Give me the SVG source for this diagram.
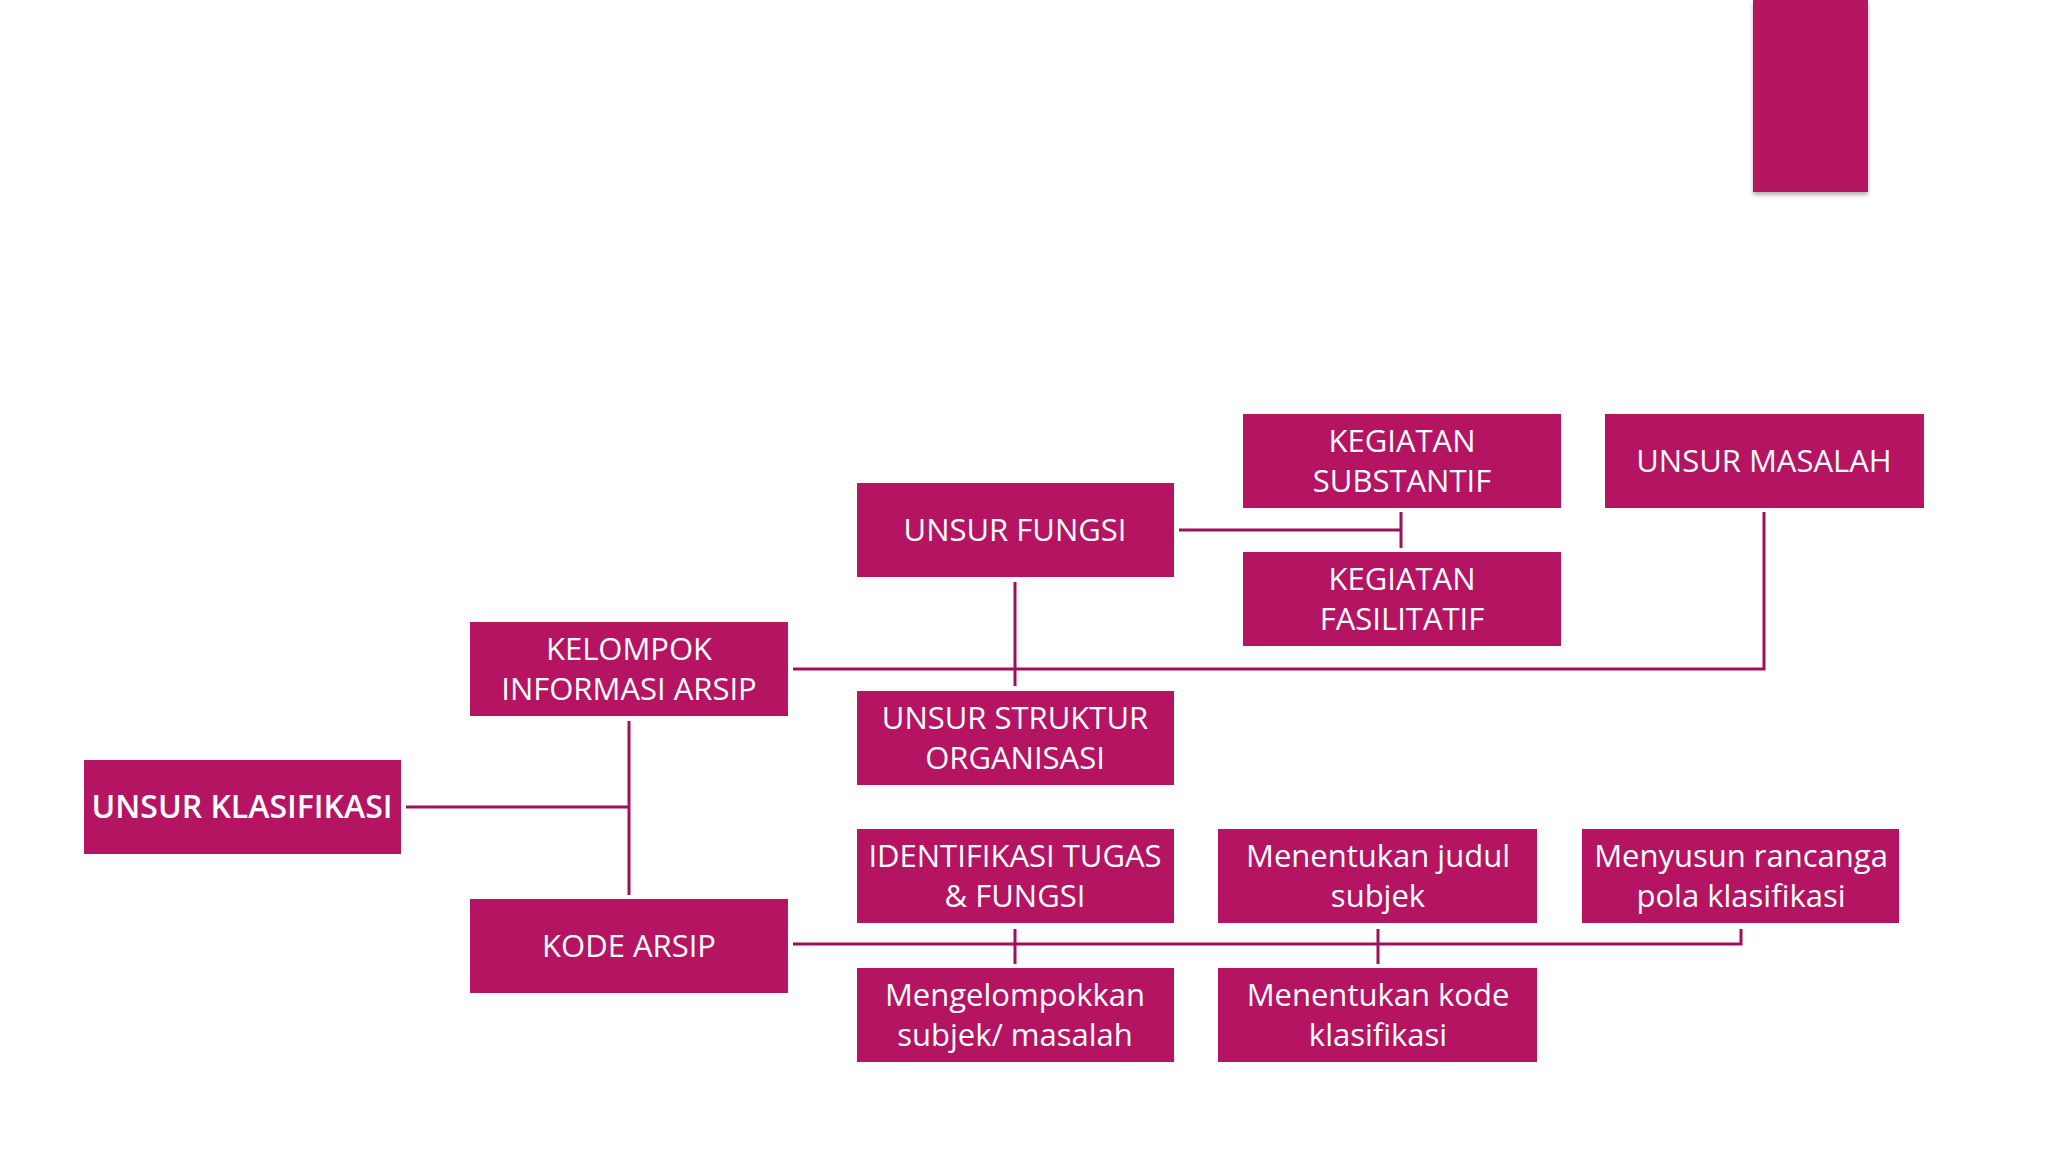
<svg xmlns="http://www.w3.org/2000/svg" width="2048" height="1152" viewBox="0 0 2048 1152">
<style>
.n rect{fill:#b41462}
.n text{fill:#fff;font-family:"Open Sans","Noto Sans",sans-serif;font-size:31px;text-anchor:middle}
#c path{stroke:#a01058;stroke-width:3;fill:none}
</style>
<defs><filter id="sh"><feDropShadow dx="0" dy="3" stdDeviation="2" flood-color="#000" flood-opacity="0.3"/></filter></defs>
<rect x="1753" y="0" width="115" height="192" fill="#b41462" filter="url(#sh)"/>
<g id="c">
<path d="M406 807H629M629 721V895"/>
<path d="M793 669H1764V512"/>
<path d="M1015 582V686"/>
<path d="M1179 530H1401M1401 512V548"/>
<path d="M793 944H1741V929M1015 929V964M1378 929V964"/>
</g>
<g id="uk" class="n"><rect x="84" y="760" width="317" height="94"/><text x="242" y="818" style="font-weight:600;font-size:32px">UNSUR KLASIFIKASI</text></g>
<g id="kia" class="n"><rect x="470" y="622" width="318" height="94"/><text x="629" y="660">KELOMPOK</text><text x="629" y="700">INFORMASI ARSIP</text></g>
<g id="ka" class="n"><rect x="470" y="899" width="318" height="94"/><text x="629" y="957">KODE ARSIP</text></g>
<g id="uf" class="n"><rect x="857" y="483" width="317" height="94"/><text x="1015" y="541">UNSUR FUNGSI</text></g>
<g id="uso" class="n"><rect x="857" y="691" width="317" height="94"/><text x="1015" y="729">UNSUR STRUKTUR</text><text x="1015" y="769">ORGANISASI</text></g>
<g id="ks" class="n"><rect x="1243" y="414" width="318" height="94"/><text x="1402" y="452">KEGIATAN</text><text x="1402" y="492">SUBSTANTIF</text></g>
<g id="kf" class="n"><rect x="1243" y="552" width="318" height="94"/><text x="1402" y="590">KEGIATAN</text><text x="1402" y="630">FASILITATIF</text></g>
<g id="um" class="n"><rect x="1605" y="414" width="319" height="94"/><text x="1764" y="472">UNSUR MASALAH</text></g>
<g id="it" class="n"><rect x="857" y="829" width="317" height="94"/><text x="1015" y="867">IDENTIFIKASI TUGAS</text><text x="1015" y="907">&amp; FUNGSI</text></g>
<g id="mj" class="n"><rect x="1218" y="829" width="319" height="94"/><text x="1378" y="867">Menentukan judul</text><text x="1378" y="907">subjek</text></g>
<g id="mr" class="n"><rect x="1582" y="829" width="317" height="94"/><text x="1741" y="867">Menyusun rancanga</text><text x="1741" y="907">pola klasifikasi</text></g>
<g id="mg" class="n"><rect x="857" y="968" width="317" height="94"/><text x="1015" y="1006">Mengelompokkan</text><text x="1015" y="1046">subjek/ masalah</text></g>
<g id="mk" class="n"><rect x="1218" y="968" width="319" height="94"/><text x="1378" y="1006">Menentukan kode</text><text x="1378" y="1046">klasifikasi</text></g>
</svg>
